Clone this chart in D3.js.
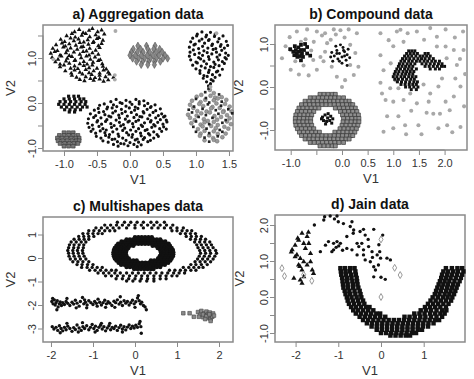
<!DOCTYPE html>
<html><head><meta charset="utf-8">
<script src="https://cdnjs.cloudflare.com/ajax/libs/d3/7.8.5/d3.min.js"></script>
<style>body{margin:0;background:#fff}svg{display:block}</style></head>
<body><svg id="chart" width="474" height="379"></svg>
<script>
// ---------- DATA (pairs [x, y]  or rows [y, x1, x2, ...]) ----------
// a) Aggregation
const aggTopLeft = [
 [-0.84,1.58],[-0.77,1.63],[-0.71,1.56],[-0.62,1.61],[-0.57,1.65],[-0.49,1.58],[-0.43,1.62],
 [-0.96,1.49],[-0.88,1.54],[-0.83,1.46],[-0.73,1.5],[-0.67,1.54],[-0.61,1.47],[-0.52,1.51],[-0.47,1.45],[-0.39,1.53],
 [-1.05,1.41],[-0.99,1.36],[-0.9,1.44],[-0.85,1.38],[-0.78,1.42],[-0.7,1.35],[-0.64,1.4],[-0.55,1.36],[-0.5,1.43],[-0.41,1.39],
 [-1.12,1.29],[-1.03,1.33],[-0.98,1.26],[-0.92,1.31],[-0.82,1.28],[-0.76,1.34],[-0.71,1.25],[-0.63,1.3],[-0.56,1.34],[-0.48,1.27],[-0.43,1.32],
 [-1.17,1.21],[-1.1,1.16],[-1.01,1.24],[-0.95,1.17],[-0.9,1.22],[-0.8,1.19],[-0.74,1.24],[-0.66,1.15],[-0.61,1.21],[-0.52,1.17],[-0.46,1.23],
 [-1.2,1.1],[-1.14,1.14],[-1.06,1.06],[-0.97,1.11],[-0.92,1.05],[-0.85,1.13],[-0.76,1.08],[-0.71,1.14],[-0.62,1.06],[-0.57,1.11],[-0.48,1.08],
 [-1.18,1.01],[-1.09,0.97],[-1.04,1.04],[-0.95,0.99],[-0.88,1.03],[-0.83,0.95],[-0.74,1.0],[-0.66,1.04],[-0.6,0.97],[-0.53,1.02],[-0.45,0.96],
 [-1.13,0.91],[-1.06,0.86],[-0.97,0.93],[-0.92,0.88],[-0.84,0.94],[-0.76,0.87],[-0.7,0.92],[-0.65,0.86],[-0.56,0.9],[-0.48,0.94],[-0.42,0.87],
 [-1.06,0.8],[-1.0,0.84],[-0.9,0.77],[-0.84,0.82],[-0.79,0.76],[-0.7,0.83],[-0.62,0.78],[-0.57,0.84],[-0.5,0.77],[-0.41,0.81],[-0.36,0.75],
 [-0.98,0.71],[-0.89,0.66],[-0.84,0.73],[-0.76,0.68],[-0.67,0.74],[-0.62,0.67],[-0.55,0.71],[-0.46,0.66],[-0.4,0.73],[-0.33,0.68],
 [-0.88,0.61],[-0.81,0.57],[-0.72,0.64],[-0.67,0.58],[-0.58,0.63],[-0.53,0.56],[-0.46,0.61],[-0.37,0.58],[-0.31,0.64],[-0.25,0.57],
 [-0.76,0.52],[-0.69,0.49],[-0.6,0.54],[-0.55,0.5],[-0.46,0.53],[-0.4,0.48],[-0.33,0.51]
];
const aggTopMid = [
 [1.27,0.12,0.25,0.38],[1.2,0.05,0.16,0.27,0.36,0.45],[1.13,0.02,0.11,0.2,0.3,0.4,0.49],
 [1.06,0.0,0.08,0.17,0.26,0.35,0.44,0.53],[0.99,0.04,0.13,0.22,0.31,0.4,0.5,0.57],
 [0.92,0.1,0.19,0.28,0.37,0.46],[0.85,0.17,0.27,0.37]
];
const aggTopRight = [
 [1.02,1.53],[1.09,1.58],[1.16,1.51],[1.22,1.57],[1.29,1.53],
 [0.95,1.44],[1.01,1.49],[1.09,1.42],[1.15,1.47],[1.2,1.41],[1.28,1.48],[1.35,1.43],[1.41,1.49],
 [0.92,1.36],[0.99,1.31],[1.05,1.38],[1.13,1.33],[1.19,1.39],[1.25,1.31],[1.33,1.36],[1.38,1.3],[1.46,1.37],
 [0.9,1.24],[0.97,1.29],[1.04,1.21],[1.1,1.26],[1.18,1.22],[1.24,1.28],[1.3,1.21],[1.37,1.26],[1.43,1.22],[1.48,1.28],
 [0.91,1.13],[0.96,1.18],[1.05,1.11],[1.12,1.16],[1.17,1.12],[1.26,1.19],[1.31,1.13],[1.39,1.17],[1.45,1.11],
 [0.9,1.04],[0.98,1.08],[1.04,1.01],[1.1,1.06],[1.19,1.03],[1.24,1.09],[1.32,1.02],[1.36,1.07],[1.44,1.01],[1.49,1.06],
 [0.92,0.96],[1.0,0.91],[1.07,0.98],[1.12,0.93],[1.2,0.97],[1.27,0.91],[1.34,0.96],[1.4,0.92],[1.46,0.98],
 [0.95,0.84],[1.02,0.89],[1.08,0.82],[1.16,0.87],[1.22,0.81],[1.29,0.86],[1.35,0.83],[1.43,0.88],
 [1.0,0.76],[1.06,0.72],[1.14,0.78],[1.2,0.73],[1.27,0.79],[1.33,0.71],[1.4,0.75],
 [1.06,0.66],[1.12,0.61],[1.19,0.68],[1.25,0.63],[1.31,0.69],[1.36,0.62],
 [1.11,0.55],[1.17,0.59],[1.23,0.52],[1.29,0.57],[1.16,0.47],[1.22,0.43],[1.26,0.49],[1.19,0.38]
];
const aggMidRight = [
 [1.14,0.24],[1.21,0.29],[1.27,0.22],[1.19,0.32],
 [1.01,0.14],[1.08,0.18],[1.15,0.11],[1.22,0.16],[1.29,0.12],[1.35,0.19],[1.39,0.13],
 [0.94,0.05],[1.0,0.09],[1.07,0.02],[1.14,0.07],[1.2,0.01],[1.27,0.06],[1.33,0.1],[1.39,0.03],[1.46,0.07],
 [0.91,-0.04],[0.97,-0.08],[1.05,-0.02],[1.11,-0.07],[1.18,-0.03],[1.25,-0.09],[1.31,-0.01],[1.38,-0.06],[1.44,-0.02],[1.51,-0.08],
 [0.89,-0.15],[0.96,-0.11],[1.02,-0.18],[1.1,-0.13],[1.16,-0.19],[1.23,-0.12],[1.3,-0.16],[1.36,-0.11],[1.42,-0.18],[1.49,-0.14],[1.54,-0.19],
 [0.88,-0.26],[0.94,-0.21],[1.01,-0.28],[1.08,-0.23],[1.15,-0.27],[1.21,-0.21],[1.28,-0.29],[1.34,-0.24],[1.41,-0.2],[1.47,-0.27],[1.55,-0.23],
 [0.91,-0.33],[0.98,-0.38],[1.04,-0.31],[1.12,-0.36],[1.18,-0.4],[1.25,-0.33],[1.32,-0.37],[1.38,-0.31],[1.45,-0.38],[1.51,-0.34],
 [0.93,-0.45],[1.0,-0.41],[1.07,-0.48],[1.13,-0.43],[1.2,-0.47],[1.27,-0.42],[1.33,-0.49],[1.4,-0.44],[1.47,-0.41],[1.53,-0.47],
 [0.96,-0.53],[1.03,-0.58],[1.1,-0.52],[1.16,-0.57],[1.23,-0.51],[1.3,-0.56],[1.36,-0.6],[1.43,-0.53],[1.49,-0.57],
 [1.0,-0.64],[1.07,-0.68],[1.13,-0.62],[1.2,-0.67],[1.27,-0.63],[1.33,-0.69],[1.4,-0.64],[1.45,-0.68],
 [1.06,-0.73],[1.13,-0.77],[1.2,-0.72],[1.26,-0.78],[1.33,-0.74],[1.4,-0.76],
 [1.13,-0.83],[1.2,-0.86],[1.27,-0.82],[1.32,-0.85]
];
const aggLeftSmall = [
 [0.15,-0.93,-0.85,-0.78],[0.09,-1.0,-0.92,-0.84,-0.76,-0.7],[0.03,-1.06,-0.98,-0.9,-0.82,-0.74,-0.67],
 [-0.03,-1.08,-1.0,-0.92,-0.84,-0.76,-0.68],[-0.09,-1.04,-0.96,-0.88,-0.8,-0.72,-0.65],
 [-0.15,-0.99,-0.91,-0.83,-0.75],[-0.2,-0.92,-0.84]
];
const aggBottomLeft = [
 [-0.66,-1.0,-0.93,-0.86],[-0.72,-1.07,-1.0,-0.93,-0.86,-0.79],[-0.78,-1.1,-1.03,-0.96,-0.89,-0.82,-0.77],
 [-0.84,-1.09,-1.02,-0.95,-0.88,-0.81,-0.77],[-0.9,-1.06,-0.99,-0.92,-0.85,-0.79],[-0.96,-1.0,-0.93,-0.86]
];
const aggEllipse = [
 [-0.29,0.03],[-0.21,0.08],[-0.15,0.01],[-0.06,0.06],[0.0,0.02],[0.09,0.08],[0.14,0.03],[0.21,0.05],
 [-0.46,-0.05],[-0.39,-0.02],[-0.34,-0.09],[-0.25,-0.04],[-0.2,-0.08],[-0.12,-0.01],[-0.06,-0.07],[0.03,-0.03],[0.08,-0.09],[0.14,-0.02],[0.22,-0.06],[0.27,-0.01],[0.32,-0.08],[0.38,-0.04],
 [-0.54,-0.16],[-0.48,-0.12],[-0.4,-0.19],[-0.35,-0.13],[-0.27,-0.11],[-0.22,-0.18],[-0.13,-0.14],[-0.07,-0.19],[-0.01,-0.11],[0.07,-0.16],[0.12,-0.12],[0.2,-0.19],[0.26,-0.14],[0.31,-0.1],[0.39,-0.17],[0.46,-0.13],
 [-0.6,-0.24],[-0.52,-0.28],[-0.47,-0.21],[-0.38,-0.26],[-0.32,-0.29],[-0.26,-0.22],[-0.17,-0.27],[-0.12,-0.23],[-0.04,-0.29],[0.02,-0.21],[0.1,-0.26],[0.15,-0.3],[0.21,-0.22],[0.3,-0.27],[0.35,-0.21],[0.43,-0.28],[0.48,-0.24],[0.53,-0.29],
 [-0.63,-0.35],[-0.55,-0.32],[-0.49,-0.39],[-0.44,-0.33],[-0.35,-0.37],[-0.29,-0.31],[-0.21,-0.38],[-0.16,-0.33],[-0.07,-0.36],[-0.01,-0.4],[0.06,-0.32],[0.13,-0.38],[0.18,-0.31],[0.27,-0.35],[0.32,-0.39],[0.39,-0.33],[0.46,-0.37],[0.51,-0.31],[0.55,-0.38],
 [-0.64,-0.45],[-0.57,-0.49],[-0.5,-0.42],[-0.43,-0.47],[-0.37,-0.41],[-0.29,-0.46],[-0.24,-0.5],[-0.16,-0.43],[-0.1,-0.48],[-0.03,-0.42],[0.04,-0.46],[0.09,-0.41],[0.17,-0.49],[0.22,-0.44],[0.31,-0.42],[0.36,-0.48],[0.42,-0.43],[0.5,-0.47],[0.56,-0.42],
 [-0.62,-0.54],[-0.56,-0.58],[-0.47,-0.52],[-0.41,-0.57],[-0.36,-0.6],[-0.28,-0.54],[-0.2,-0.58],[-0.14,-0.51],[-0.08,-0.56],[0.01,-0.6],[0.05,-0.53],[0.13,-0.57],[0.19,-0.52],[0.26,-0.59],[0.33,-0.54],[0.38,-0.51],[0.45,-0.57],[0.51,-0.53],[0.55,-0.58],
 [-0.59,-0.63],[-0.52,-0.67],[-0.45,-0.62],[-0.38,-0.66],[-0.31,-0.7],[-0.26,-0.64],[-0.18,-0.69],[-0.11,-0.61],[-0.05,-0.66],[0.04,-0.7],[0.09,-0.63],[0.16,-0.67],[0.23,-0.61],[0.28,-0.68],[0.36,-0.64],[0.41,-0.7],[0.48,-0.63],
 [-0.51,-0.74],[-0.44,-0.78],[-0.37,-0.72],[-0.32,-0.76],[-0.23,-0.8],[-0.17,-0.74],[-0.11,-0.78],[-0.02,-0.71],[0.03,-0.76],[0.11,-0.8],[0.17,-0.73],[0.22,-0.77],[0.3,-0.71],[0.36,-0.78],[0.43,-0.74],
 [-0.41,-0.84],[-0.33,-0.87],[-0.27,-0.81],[-0.19,-0.86],[-0.14,-0.9],[-0.06,-0.83],[0.0,-0.88],[0.08,-0.82],[0.13,-0.87],[0.2,-0.81],[0.27,-0.86],[0.31,-0.83],
 [-0.25,-0.92],[-0.18,-0.96],[-0.09,-0.91],[-0.03,-0.95],[0.06,-0.92],[0.11,-0.97],[0.17,-0.93]
];
const aggGrayExtra = [[-0.22,1.6],[1.31,1.55],[-1.16,0.97],[-0.23,0.62],[-0.23,0.52],[1.22,0.36]];

// b) Compound
const compNoise = [
 [-1.17,0.67],[-1.02,1.16],[-0.88,1.29],[-0.68,1.34],[-0.49,1.29],[-0.71,1.11],[-0.55,1.05],[-0.39,1.2],
 [-1.0,0.4],[-0.84,0.29],[-0.65,0.27],[-0.49,0.4],[-0.91,0.6],[-0.56,0.63],[-1.0,0.86],[-1.1,0.95],
 [-0.6,0.85],[-0.42,0.7],[-0.33,1.25],[-0.16,1.34],[-0.03,1.32],[0.13,1.34],[0.29,1.25],[-0.29,1.02],
 [0.16,0.98],[-0.33,0.82],[0.26,0.79],[-0.36,0.6],[-0.2,0.47],[0.16,0.51],[0.32,0.47],[-0.1,0.24],
 [0.06,0.16],[0.23,0.28],[0.0,0.0],[-0.75,0.5],[-0.22,1.1],[0.05,1.15],[-0.12,1.22],[-0.8,1.05],
 [0.75,1.25],[0.91,1.09],[1.07,1.29],[1.14,1.33],[1.28,1.25],[1.46,1.29],[1.72,1.37],[1.85,1.17],
 [2.02,1.34],[2.36,1.29],[1.85,0.94],[2.02,0.94],[2.18,0.86],[2.37,0.86],[2.24,0.51],[2.04,0.67],
 [0.75,0.74],[0.81,0.39],[0.75,0.1],[0.94,-0.03],[1.04,0.16],[1.1,-0.03],[1.0,-0.34],[1.2,-0.3],
 [1.33,-0.15],[1.46,-0.38],[0.88,-0.68],[1.1,-0.68],[0.81,-1.04],[1.0,-0.96],[1.23,-0.89],[1.49,-0.89],
 [1.78,-0.62],[1.91,-0.62],[2.1,-0.54],[1.88,-0.96],[2.05,-0.89],[2.31,-0.93],[2.18,-0.22],[2.31,0.01],
 [2.21,0.2],[1.88,0.01],[1.72,-0.15],[2.02,-0.34],[1.59,0.06],[1.69,-0.34],[1.0,0.95],[1.2,1.05],
 [1.6,1.1],[2.2,1.15],[0.95,0.55],[1.65,-0.6],[1.35,-0.55],[0.85,-0.3],[2.38,-0.45],[2.4,0.3],
 [1.55,-1.1],[2.15,-1.05],[1.95,0.2],[0.78,-0.15],[1.25,-1.1],[2.3,0.65]
];
const compSquares = [
 [-0.84,0.82],[-0.8,0.86],[-0.88,0.78],[-0.9,0.86],[-0.78,0.78],[-0.85,0.92],[-0.82,0.72],[-0.95,0.82],
 [-0.74,0.86],[-0.87,0.7],[-1.01,0.88],[-0.72,1.0],[-0.76,0.7],[-0.93,0.74],[-0.92,0.95],[-0.68,0.78],
 [-0.8,0.98],[-0.68,0.93],[-0.8,0.62],[-0.62,0.73]
];
const compDots = [
 [-0.2,0.8],[-0.15,0.72],[-0.1,0.85],[-0.05,0.78],[0.0,0.7],[0.05,0.82],[0.1,0.75],[-0.08,0.65],
 [0.02,0.92],[-0.12,0.95],[0.08,0.62],[-0.18,0.6],[0.0,0.55],[0.12,0.88],[-0.03,0.98],[0.15,0.68],
 [-0.22,0.7],[-0.05,0.6],[0.05,0.72],[-0.1,0.78],[0.03,0.85],[0.1,0.5]
];
const compArrow = [
 [0.84,1.3,1.36,1.42],[0.78,1.26,1.33,1.4,1.47,1.62,1.68],[0.72,1.22,1.29,1.36,1.44,1.52,1.58,1.65,1.72],
 [0.66,1.18,1.25,1.32,1.4,1.48,1.55,1.62,1.7,1.78],[0.6,1.15,1.22,1.3,1.37,1.45,1.52,1.6,1.67,1.75,1.82,1.9],
 [0.54,1.12,1.19,1.27,1.34,1.42,1.56,1.64,1.72,1.8,1.88,1.95],[0.48,1.1,1.17,1.24,1.31,1.38,1.62,1.7,1.78,1.86,1.94,2.0],
 [0.42,1.07,1.14,1.22,1.29,1.36,1.45,1.72,1.82,1.9],[0.36,1.04,1.11,1.19,1.26,1.33,1.4],
 [0.3,1.02,1.09,1.17,1.24,1.31,1.38],[0.24,1.0,1.07,1.15,1.22,1.3,1.37,1.44],
 [0.18,1.03,1.1,1.18,1.26,1.34,1.41],[0.12,1.08,1.16,1.24,1.32,1.4,1.47],
 [0.06,1.15,1.23,1.31,1.38,1.45],[0.0,1.24,1.32,1.4,1.48],[-0.06,1.35,1.45]
];
const compRing = [
 [-0.17,-0.43,-0.35,-0.27,-0.19,-0.13],
 [-0.25,-0.62,-0.54,-0.46,-0.38,-0.3,-0.22,-0.14,-0.06,0.03],
 [-0.33,-0.72,-0.64,-0.56,-0.48,-0.4,-0.32,-0.24,-0.16,-0.08,0.0,0.08,0.14],
 [-0.41,-0.79,-0.71,-0.63,-0.55,-0.47,-0.39,-0.31,-0.23,-0.15,-0.07,0.01,0.09,0.17,0.21],
 [-0.49,-0.84,-0.76,-0.68,-0.6,-0.52,-0.45,-0.13,-0.05,0.03,0.11,0.19,0.26],
 [-0.57,-0.87,-0.79,-0.71,-0.63,-0.55,-0.03,0.05,0.13,0.21,0.29],
 [-0.65,-0.9,-0.82,-0.74,-0.66,-0.59,0.01,0.09,0.17,0.25,0.32],
 [-0.73,-0.91,-0.83,-0.75,-0.67,-0.61,0.03,0.11,0.19,0.27,0.33],
 [-0.81,-0.91,-0.84,-0.76,-0.68,-0.61,0.02,0.1,0.18,0.26,0.33],
 [-0.89,-0.9,-0.82,-0.74,-0.66,-0.59,0.0,0.08,0.16,0.24,0.31],
 [-0.97,-0.87,-0.79,-0.71,-0.63,-0.55,-0.04,0.04,0.12,0.2,0.28],
 [-1.05,-0.83,-0.75,-0.67,-0.59,-0.51,-0.44,-0.14,-0.06,0.02,0.1,0.18,0.25],
 [-1.13,-0.79,-0.71,-0.63,-0.55,-0.47,-0.39,-0.31,-0.23,-0.15,-0.07,0.01,0.09,0.17,0.21],
 [-1.21,-0.72,-0.64,-0.56,-0.48,-0.4,-0.32,-0.24,-0.16,-0.08,0.0,0.08,0.14],
 [-1.29,-0.62,-0.54,-0.46,-0.38,-0.3,-0.22,-0.14,-0.06,0.03],
 [-1.37,-0.43,-0.35,-0.27,-0.19,-0.13]
];
const compCore = [
 [-0.38,-0.7],[-0.33,-0.65],[-0.28,-0.72],[-0.22,-0.68],[-0.3,-0.8],[-0.24,-0.78],[-0.36,-0.78],
 [-0.18,-0.74],[-0.27,-0.62],[-0.32,-0.86],[-0.2,-0.84],[-0.4,-0.74]
];

// c) Multishapes
const multiOuter = [
 [1.52,-0.42,-0.25,-0.1,0.05,0.2,0.38,0.52,0.7],
 [1.40,-0.72,-0.58,-0.44,-0.3,-0.15,0.0,0.15,0.3,0.45,0.6,0.75,0.9],
 [1.28,-0.93,-0.8,-0.66,-0.52,-0.38,-0.2,0.0,0.2,0.4,0.55,0.7,0.85,1.0,1.15],
 [1.16,-1.1,-0.98,-0.85,-0.72,-0.6,-0.48,0.88,1.0,1.12,1.24,1.35],
 [1.04,-1.24,-1.12,-1.0,-0.88,-0.78,1.08,1.2,1.32,1.44],
 [0.92,-1.34,-1.22,-1.1,-0.98,1.22,1.34,1.46,1.58],
 [0.80,-1.45,-1.33,-1.21,-1.1,1.32,1.44,1.56,1.68],
 [0.68,-1.52,-1.4,-1.28,-1.17,1.42,1.54,1.66,1.78],
 [0.56,-1.56,-1.45,-1.33,-1.22,1.47,1.58,1.7,1.82],
 [0.44,-1.58,-1.46,-1.35,-1.23,1.5,1.62,1.74,1.86],
 [0.32,-1.6,-1.48,-1.37,-1.25,1.54,1.66,1.78,1.92],
 [0.20,-1.58,-1.47,-1.35,-1.24,1.56,1.68,1.8,1.94],
 [0.08,-1.57,-1.45,-1.33,-1.21,1.53,1.65,1.77,1.9],
 [-0.04,-1.54,-1.42,-1.3,-1.17,1.49,1.61,1.73,1.86],
 [-0.16,-1.48,-1.36,-1.24,-1.1,1.43,1.55,1.67,1.8],
 [-0.28,-1.38,-1.26,-1.13,-1.0,1.33,1.45,1.58,1.72],
 [-0.40,-1.27,-1.14,-1.02,-0.9,-0.78,1.15,1.28,1.4,1.52,1.62],
 [-0.52,-1.08,-0.95,-0.82,-0.69,-0.56,-0.45,0.82,0.95,1.08,1.2,1.33,1.45],
 [-0.64,-0.88,-0.75,-0.62,-0.48,-0.35,-0.2,-0.06,0.08,0.22,0.36,0.5,0.64,0.78,0.92,1.05,1.18],
 [-0.76,-0.7,-0.56,-0.42,-0.28,-0.13,0.02,0.16,0.3,0.45,0.6,0.74,0.88,1.0],
 [-0.88,-0.45,-0.3,-0.15,0.0,0.15,0.3,0.45,0.6,0.74],
 [-0.98,-0.2,-0.05,0.12,0.28,0.45]
];
const multiInner = [
 [0.88,0.0,0.08,0.16,0.24,0.32,0.4],
 [0.79,-0.2,-0.12,-0.04,0.04,0.12,0.2,0.28,0.36,0.44,0.52,0.6],
 [0.70,-0.32,-0.24,-0.16,-0.08,0.0,0.08,0.16,0.24,0.32,0.4,0.48,0.56,0.64,0.72],
 [0.61,-0.4,-0.32,-0.24,-0.16,-0.08,0.0,0.08,0.16,0.24,0.32,0.4,0.48,0.56,0.64,0.72,0.8],
 [0.52,-0.44,-0.36,-0.28,-0.2,-0.12,-0.04,0.42,0.5,0.58,0.66,0.74,0.83],
 [0.43,-0.48,-0.4,-0.32,-0.24,-0.16,0.54,0.62,0.7,0.78,0.87],
 [0.34,-0.5,-0.42,-0.34,-0.26,-0.2,0.6,0.68,0.76,0.84,0.9],
 [0.25,-0.51,-0.43,-0.35,-0.27,-0.22,0.62,0.69,0.77,0.85,0.91],
 [0.16,-0.51,-0.43,-0.35,-0.27,-0.22,0.62,0.69,0.77,0.85,0.91],
 [0.07,-0.5,-0.42,-0.34,-0.26,-0.2,0.59,0.67,0.75,0.83,0.9],
 [-0.02,-0.48,-0.4,-0.32,-0.24,-0.15,0.55,0.63,0.71,0.79,0.87],
 [-0.11,-0.44,-0.36,-0.28,-0.2,-0.12,-0.04,0.04,0.38,0.46,0.54,0.62,0.7,0.78,0.84],
 [-0.20,-0.39,-0.31,-0.23,-0.15,-0.07,0.01,0.09,0.17,0.25,0.33,0.41,0.49,0.57,0.65,0.73,0.79],
 [-0.29,-0.33,-0.25,-0.17,-0.09,-0.01,0.07,0.15,0.23,0.31,0.39,0.47,0.55,0.63,0.71],
 [-0.38,-0.2,-0.12,-0.04,0.04,0.12,0.2,0.28,0.36,0.44,0.52,0.6],
 [-0.47,-0.02,0.06,0.14,0.22,0.3,0.38,0.44]
];
const multiLineUpper = [
 [-1.98,-1.85],[-1.95,-1.95],[-1.92,-1.78],[-1.9,-2.0],[-1.88,-1.9],[-1.85,-1.82],[-1.83,-2.08],[-1.8,-1.95],
 [-1.78,-1.87],[-1.75,-2.02],[-1.72,-1.9],[-1.68,-1.98],[-1.64,-1.85],[-1.6,-1.93],[-1.55,-2.02],[-1.5,-1.88],
 [-1.46,-1.96],[-1.42,-1.8],[-1.38,-1.92],[-1.33,-2.05],[-1.3,-1.85],[-1.25,-1.68],[-1.22,-1.95],[-1.18,-1.88],
 [-1.14,-2.0],[-1.1,-1.82],[-1.05,-1.9],[-1.0,-1.98],[-0.96,-1.85],[-0.92,-1.93],[-0.88,-1.75],[-0.84,-1.88],
 [-0.8,-2.0],[-0.76,-1.9],[-0.72,-1.8],[-0.68,-1.95],[-0.64,-1.86],[-0.6,-1.92],[-0.55,-2.02],[-0.5,-1.84],
 [-0.46,-1.9],[-0.42,-1.78],[-0.38,-1.96],[-0.34,-1.88],[-0.3,-2.02],[-0.26,-1.82],[-0.22,-1.92],[-0.18,-1.85],
 [-0.14,-2.0],[-0.1,-1.9],[-0.06,-1.8],[-0.02,-1.95],[0.02,-1.86],[0.06,-1.7],[0.1,-1.82],[0.13,-1.95],
 [0.16,-1.88],[0.2,-2.02],[0.24,-2.08],[0.27,-2.2],[-1.86,-2.2],[-1.62,-1.72],[-1.15,-2.12],[-0.7,-2.1],
 [-0.35,-1.65],[0.08,-1.6],[-1.96,-1.72],[-1.2,-1.78],[-0.9,-2.05],[-0.48,-2.1],[-1.4,-2.12],[0.0,-2.1]
];
const multiLineLower = [
 [-1.97,-2.92],[-1.93,-3.02],[-1.88,-2.95],[-1.84,-3.08],[-1.8,-2.88],[-1.76,-3.0],[-1.72,-3.1],[-1.68,-2.95],
 [-1.64,-3.05],[-1.6,-2.9],[-1.55,-3.0],[-1.5,-3.12],[-1.46,-2.96],[-1.42,-3.04],[-1.38,-2.85],[-1.33,-2.98],
 [-1.28,-3.08],[-1.24,-2.92],[-1.2,-3.0],[-1.15,-2.88],[-1.1,-3.05],[-1.06,-2.95],[-1.02,-2.83],[-0.98,-3.0],
 [-0.94,-2.9],[-0.9,-3.08],[-0.86,-2.95],[-0.82,-2.86],[-0.78,-3.02],[-0.74,-2.92],[-0.7,-3.1],[-0.66,-2.98],
 [-0.62,-2.88],[-0.58,-3.05],[-0.54,-2.95],[-0.5,-3.0],[-0.46,-2.9],[-0.42,-3.08],[-0.38,-2.96],[-0.34,-2.86],
 [-0.3,-3.02],[-0.26,-2.92],[-0.22,-3.06],[-0.18,-2.94],[-0.14,-2.85],[-0.1,-3.0],[-0.06,-2.9],[-0.02,-2.98],
 [0.02,-2.86],[0.06,-2.95],[0.1,-2.8],[0.14,-2.92],[0.15,-3.2],[-1.78,-3.18],[-1.25,-2.75],[-0.95,-3.15],
 [-0.6,-2.78],[-0.3,-3.15],[0.12,-2.7],[-1.62,-2.78],[-1.35,-3.15],[-0.8,-2.78]
];
const multiSquares = [
 [1.15,-2.35],[1.3,-2.35],[1.4,-2.5],[1.5,-2.3],[1.55,-2.42],[1.58,-2.25],[1.62,-2.52],[1.65,-2.35],
 [1.68,-2.44],[1.7,-2.28],[1.72,-2.55],[1.74,-2.38],[1.76,-2.47],[1.78,-2.32],[1.8,-2.6],[1.82,-2.42],
 [1.84,-2.5],[1.86,-2.36],[1.62,-2.4],[1.7,-2.48],[1.77,-2.4],[1.67,-2.6],[1.8,-2.68],[1.52,-2.5],[1.88,-2.45]
];

// d) Jain
const jainTriangles = [
 [-2.08,1.31],[-2.01,1.44],[-1.97,1.17],[-1.93,1.58],[-1.89,1.07],[-1.81,0.98],[-1.77,1.35],[-1.73,1.68],
 [-1.85,1.77],[-1.81,1.49],[-1.69,1.49],[-1.65,1.21],[-1.73,0.89],[-1.85,0.75],[-1.81,0.56],[-1.65,0.98],
 [-1.61,0.75],[-2.04,0.52],[-1.85,0.38],[-1.89,0.47],[-2.01,1.12],[-1.93,0.89],[-2.1,1.25],[-1.95,1.63],
 [-1.7,1.8],[-1.9,0.85],[-1.58,0.65]
];
const jainDots = [
 [-1.56,2.0],[-1.34,2.14],[-1.32,2.23],[-1.19,2.25],[-1.09,2.17],[-1.03,2.25],[-1.0,2.09],[-0.88,2.04],
 [-0.68,2.09],[-0.64,1.86],[-0.49,1.82],[-0.41,1.88],[-0.17,1.88],[-0.37,1.72],[-0.65,1.77],[-0.8,1.68],
 [-1.23,1.54],[-1.11,1.49],[-1.03,1.54],[-0.99,1.42],[-1.11,1.31],[-0.95,1.49],[-1.15,1.26],[-1.42,1.26],
 [-1.3,1.44],[-0.8,1.35],[-0.68,1.31],[-0.56,1.49],[-0.52,1.4],[-0.45,1.49],[-0.41,1.31],[-0.29,1.4],
 [-0.56,1.17],[-0.41,1.17],[-0.37,1.03],[-0.25,0.98],[-0.21,1.26],[-0.09,1.17],[-0.03,1.26],[-0.17,0.84],
 [-0.06,0.89],[-0.13,0.75],[-0.01,1.08],[-0.17,0.56],[0.0,0.55],[0.1,0.49],[0.04,1.72],[0.14,1.08],
 [0.22,1.03],[-1.05,1.38],[-0.9,1.3],[-0.72,1.96],[-0.3,1.6],[-0.05,1.45],[-0.2,1.1]
];
const jainOutliers = [[-2.32,0.8],[-2.26,0.58],[-1.81,0.62],[-1.62,0.45],[0.0,1.6],[0.32,0.81],[0.45,0.61],[0.0,0.0]];
const jainLower = [
 [0.80,-0.95,-0.84,-0.72,-0.62,1.52,1.66,1.79,1.9],
 [0.71,-0.94,-0.83,-0.73,-0.6,1.46,1.57,1.69,1.8,1.93],
 [0.62,-0.93,-0.82,-0.7,-0.59,1.43,1.55,1.66,1.78,1.9],
 [0.53,-0.91,-0.8,-0.69,-0.57,1.41,1.52,1.63,1.75,1.87],
 [0.44,-0.9,-0.79,-0.67,-0.56,1.38,1.49,1.6,1.72,1.84],
 [0.35,-0.89,-0.78,-0.66,-0.55,1.35,1.46,1.57,1.69,1.8],
 [0.26,-0.88,-0.77,-0.65,-0.53,1.32,1.43,1.55,1.66,1.77],
 [0.17,-0.85,-0.74,-0.62,-0.5,1.29,1.4,1.52,1.63,1.74],
 [0.08,-0.83,-0.72,-0.6,-0.48,1.26,1.37,1.49,1.6,1.71],
 [-0.01,-0.8,-0.69,-0.57,-0.46,1.21,1.33,1.45,1.56,1.67],
 [-0.10,-0.78,-0.66,-0.54,-0.42,1.16,1.28,1.4,1.52,1.64],
 [-0.19,-0.75,-0.63,-0.51,-0.39,1.1,1.22,1.34,1.46,1.58],
 [-0.28,-0.7,-0.59,-0.47,-0.35,-0.27,1.03,1.15,1.27,1.39,1.52],
 [-0.37,-0.65,-0.54,-0.42,-0.3,-0.18,0.93,1.05,1.17,1.3,1.43,1.53],
 [-0.46,-0.59,-0.47,-0.35,-0.23,-0.11,-0.02,0.78,0.9,1.02,1.15,1.27,1.39,1.49],
 [-0.55,-0.5,-0.38,-0.26,-0.14,-0.02,0.1,0.55,0.67,0.79,0.92,1.04,1.17,1.3,1.43],
 [-0.64,-0.42,-0.3,-0.18,-0.06,0.06,0.18,0.3,0.42,0.54,0.66,0.78,0.9,1.02,1.14,1.26,1.36],
 [-0.73,-0.33,-0.21,-0.09,0.03,0.15,0.27,0.39,0.51,0.63,0.75,0.87,0.99,1.11,1.23],
 [-0.82,-0.22,-0.1,0.02,0.14,0.26,0.38,0.5,0.62,0.74,0.86,0.98,1.1],
 [-0.91,-0.1,0.02,0.14,0.26,0.38,0.5,0.62,0.74,0.86,0.96],
 [-1.00,0.0,0.12,0.24,0.36,0.48,0.6,0.72,0.82],
 [-1.07,0.22,0.34,0.46,0.58,0.68]
];

// tick values and labels
const ticksA_x = [-1,-0.5,0,0.5,1,1.5], labA_x = ["-1.0","-0.5","0.0","0.5","1.0","1.5"];
const ticksA_y = [-1,-0.5,0,0.5,1,1.5], labA_y = ["-1.0","","0.0","","1.0",""];
const ticksB_x = [-1,-0.5,0,0.5,1,1.5,2], labB_x = ["-1.0","","0.0","0.5","1.0","1.5","2.0"];
const ticksB_y = [-1,-0.5,0,0.5,1], labB_y = ["-1.0","","0.0","","1.0"];
const ticksC_x = [-2,-1,0,1,2], labC_x = ["-2","-1","0","1","2"];
const ticksC_y = [-3,-2,-1,0,1], labC_y = ["-3","-2","-1","0","1"];
const ticksD_x = [-2,-1,0,1], labD_x = ["-2","-1","0","1"];
const ticksD_y = [-1,-0.5,0,0.5,1,1.5,2], labD_y = ["-1.0","","0.0","","1.0","","2.0"];
const titles = ["a) Aggregation data","b) Compound data","c) Multishapes data","d) Jain data"];

// ---------- DRAWING ----------
const rows = r => r.flatMap(a => a.slice(1).map(x => [x, a[0]]));
const svg = d3.select("#chart");
const FONT = "'Liberation Sans', Arial, sans-serif";

function panel(cfg) {
  const g = svg.append("g");
  const sx = d3.scaleLinear().domain(cfg.xd).range([cfg.L, cfg.R]);
  const sy = d3.scaleLinear().domain(cfg.yd).range([cfg.B, cfg.T]);
  g.append("rect").attr("x", cfg.L).attr("y", cfg.T).attr("width", cfg.R-cfg.L).attr("height", cfg.B-cfg.T)
    .attr("fill","none").attr("stroke","#8a8a8a").attr("stroke-width",1.5);
  const xa = d3.axisBottom(sx).tickValues(cfg.xt).tickSize(5).tickFormat((d,i)=>cfg.xl[i]);
  const gx = g.append("g").attr("transform",`translate(0,${cfg.B})`).call(xa);
  gx.select(".domain").attr("stroke","#8a8a8a").attr("d",`M${sx(cfg.xt[0])},0H${sx(cfg.xt[cfg.xt.length-1])}`);
  gx.selectAll(".tick line").attr("stroke","#8a8a8a");
  gx.selectAll("text").attr("font-family",FONT).attr("font-size",11).attr("fill","#333").attr("dy",null).attr("y",16.5);
  const ya = d3.axisLeft(sy).tickValues(cfg.yt).tickSize(5).tickFormat((d,i)=>cfg.yl[i]);
  const gy = g.append("g").attr("transform",`translate(${cfg.L},0)`).call(ya);
  gy.select(".domain").attr("stroke","#8a8a8a").attr("d",`M0,${sy(cfg.yt[0])}V${sy(cfg.yt[cfg.yt.length-1])}`);
  gy.selectAll(".tick line").attr("stroke","#8a8a8a");
  gy.selectAll("text").attr("font-family",FONT).attr("font-size",11).attr("fill","#333")
    .attr("x",null).attr("dy",null).attr("text-anchor","middle")
    .attr("transform","translate(-7,0) rotate(-90)");
  g.append("text").attr("x",(cfg.L+cfg.R)/2).attr("y",cfg.T-6).attr("text-anchor","middle")
    .attr("font-family",FONT).attr("font-weight","bold").attr("font-size",14).attr("fill","#111").text(cfg.title);
  g.append("text").attr("x",(cfg.L+cfg.R)/2).attr("y",cfg.B+33).attr("text-anchor","middle")
    .attr("font-family",FONT).attr("font-size",13).attr("fill","#333").text("V1");
  g.append("text").attr("transform",`translate(${cfg.v2x},${(cfg.T+cfg.B)/2}) rotate(-90)`).attr("text-anchor","middle")
    .attr("font-family",FONT).attr("font-size",13).attr("fill","#333").text("V2");
  const pg = g.append("g");
  return {
    pts(data, type, size, fill, stroke, sw) {
      const sym = d3.symbol().type(type).size(size);
      pg.append("g").selectAll("path").data(data).join("path")
        .attr("transform", d => `translate(${sx(d[0]).toFixed(2)},${sy(d[1]).toFixed(2)})`)
        .attr("d", sym).attr("fill", fill).attr("stroke", stroke || "none").attr("stroke-width", sw || 0.6);
    }
  };
}

// a)
const pa = panel({title:titles[0], L:43,R:233,T:25,B:151, xd:[-1.318,1.561], yd:[-1.067,1.733],
  xt:ticksA_x, xl:labA_x, yt:ticksA_y, yl:labA_y, v2x:15});
pa.pts(aggTopLeft, d3.symbolTriangle, 9, "#111");
pa.pts(rows(aggTopMid), d3.symbolDiamond, 16, "#888", "#555");
pa.pts(aggTopRight, d3.symbolCircle, 8, "#111");
pa.pts(aggMidRight.filter((d,i)=>i%3!==0), d3.symbolCircle, 12, "#9a9a9a", "#6a6a6a", 0.5);
pa.pts(aggMidRight.filter((d,i)=>i%3===0), d3.symbolSquare, 7, "#222");
pa.pts(rows(aggLeftSmall), d3.symbolSquare, 10, "#111");
pa.pts(rows(aggBottomLeft), d3.symbolSquare, 14, "#777", "#333");
pa.pts(aggEllipse, d3.symbolCircle, 8, "#111");
pa.pts(aggGrayExtra, d3.symbolCircle, 12, "#aaa");

// b)
const pb = panel({title:titles[1], L:275,R:467,T:25,B:150, xd:[-1.306,2.437], yd:[-1.465,1.442],
  xt:ticksB_x, xl:labB_x, yt:ticksB_y, yl:labB_y, v2x:243});
pb.pts(compNoise, d3.symbolCircle, 13, "#a8a8a8");
pb.pts(rows(compRing), d3.symbolSquare, 15, "#8f8f8f", "#3a3a3a", 0.7);
pb.pts(compCore, d3.symbolSquare, 9, "#111");
pb.pts(compSquares, d3.symbolSquare, 14, "#111");
pb.pts(compDots, d3.symbolCircle, 7, "#111");
pb.pts(rows(compArrow), d3.symbolSquare, 9, "#111");

// c)
const pc = panel({title:titles[2], L:43,R:233,T:217,B:342, xd:[-2.19,2.333], yd:[-3.574,1.745],
  xt:ticksC_x, xl:labC_x, yt:ticksC_y, yl:labC_y, v2x:15});
pc.pts(rows(multiOuter), d3.symbolCircle, 9, "#111");
pc.pts(rows(multiInner), d3.symbolCircle, 16, "#111");
pc.pts(multiLineUpper, d3.symbolCircle, 9, "#111");
pc.pts(multiLineLower, d3.symbolCircle, 9, "#111");
pc.pts(multiSquares, d3.symbolSquare, 13, "#888", "#444");

// d)
const pd = panel({title:titles[3], L:275,R:465,T:215,B:342, xd:[-2.482,1.967], yd:[-1.25,2.278],
  xt:ticksD_x, xl:labD_x, yt:ticksD_y, yl:labD_y, v2x:244});
pd.pts(jainTriangles, d3.symbolTriangle, 12, "#111");
pd.pts(jainDots, d3.symbolCircle, 9, "#111");
pd.pts(jainOutliers, d3.symbolDiamond, 14, "none", "#999", 1);
pd.pts(rows(jainLower), d3.symbolSquare, 20, "#111");
</script></body></html>
